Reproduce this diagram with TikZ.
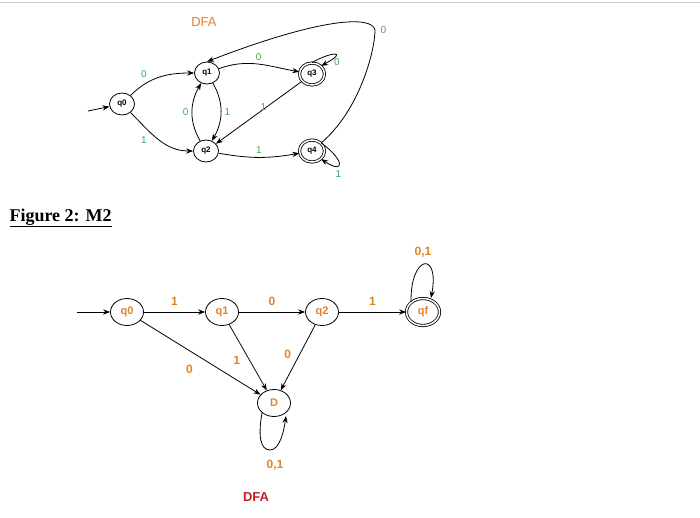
\documentclass[tikz,border=0pt]{standalone}
\usepackage{fontspec}
\setsansfont{Liberation Sans}
\newfontfamily\timesf{Liberation Serif}
\usetikzlibrary{arrows.meta,shapes.geometric}
\definecolor{gr}{RGB}{60,170,80}
\definecolor{orng}{RGB}{225,130,40}
\definecolor{dred}{RGB}{200,30,40}
\tikzset{
 st/.style={draw,thick,ellipse,minimum width=25pt,minimum height=22pt,inner sep=0pt,font=\sffamily\bfseries\fontsize{8}{8}\selectfont},
 acc/.style={st,double,double distance=1.5pt},
 bst/.style={draw,thick,ellipse,minimum width=33pt,minimum height=27pt,inner sep=0pt,font=\sffamily\bfseries\fontsize{11}{11}\selectfont,text=orng},
 bacc/.style={bst,double,double distance=1.5pt},
 e/.style={thick,-{Stealth[length=7pt]}},
 gl/.style={text=gr,font=\sffamily\fontsize{10}{10}\selectfont},
 ol/.style={text=orng,font=\sffamily\bfseries\fontsize{12}{12}\selectfont}
}
\begin{document}
\begin{tikzpicture}[x=1pt,y=-1pt]
\useasboundingbox (0,0) rectangle (700,517);
\draw[gray!40,thick] (0,2) -- (700,2);
\node[text=orng,font=\sffamily\fontsize{13}{13}\selectfont] (t1) at (204,22) {DFA};
\node[st] (a0) at (122,104) {q0};
\node[st] (a1) at (207,73) {q1};
\node[st] (a2) at (206,151) {q2};
\node[acc] (a3) at (312,74) {q3};
\node[acc] (a4) at (312,151) {q4};
\coordinate (s0) at (88,111);
\draw[e] (s0) -- (a0);
\draw[e] (a0) to[out=45,in=180] node[gl,pos=0.35,above left=0pt] {0} (a1);
\draw[e] (a0) to[out=-45,in=180] node[gl,pos=0.35,below left=0pt] {1} (a2);
\draw[e] (a1) to[out=20,in=170] node[gl,above] {0} (a3);
\draw[e] (a1) to[out=-60,in=60] node[gl,right] {1} (a2);
\draw[e] (a2) to[out=120,in=-120] node[gl,left] {0} (a1);
\draw[e] (a3) -- node[gl,above right=-2pt] {1} (a2);
\draw[e] (a2) to[out=-10,in=190] node[gl,above] {1} (a4);
\draw[e] (a3.north) .. controls (330,52) and (350,50) .. node[gl,pos=0.9,right=2pt] {0} (a3.north east);
\draw[e] (a4.north east) .. controls (345,160) and (345,175) .. node[gl,pos=0.6,below=2pt] {1} (a4.south east);
\draw[e] (a4.north east) .. controls (360,110) and (375,50) .. node[gl,pos=1,right=2pt] {0} (375,30) .. controls (372,15) and (320,18) .. (a1.north);
\node[font=\timesf\bfseries\fontsize{18}{18}\selectfont,anchor=west] (fig) at (6,218) {\underline{Figure 2: M2}};
\node[bst] (b0) at (127,312) {q0};
\node[bst] (b1) at (222,312) {q1};
\node[bst] (b2) at (322,312) {q2};
\node[bacc] (bf) at (423,312) {qf};
\node[bst] (bd) at (274,403) {D};
\coordinate (s1) at (77,312);
\draw[e] (s1) -- (b0);
\draw[e] (b0) -- node[ol,above=3pt] {1} (b1);
\draw[e] (b1) -- node[ol,above=3pt] {0} (b2);
\draw[e] (b2) -- node[ol,above=3pt] {1} (bf);
\draw[e] (b0) -- node[ol,pos=0.5,below left=4pt] {0} (bd);
\draw[e] (b1) -- node[ol,pos=0.55,left=6pt] {1} (bd);
\draw[e] (b2) -- node[ol,pos=0.45,left=5pt] {0} (bd);
\draw[e] (bf.north west) .. controls (410,255) and (440,250) .. (431,298);
\node[ol] (lf) at (423,252) {0,1};
\draw[e] (bd.south west) .. controls (258,435) and (260,450) .. (270,450) .. controls (280,450) and (284,430) .. (286,416);
\node[ol] (ld) at (275,465) {0,1};
\node[text=dred,font=\sffamily\bfseries\fontsize{13}{13}\selectfont] (t2) at (256,497) {DFA};
\end{tikzpicture}
\end{document}
